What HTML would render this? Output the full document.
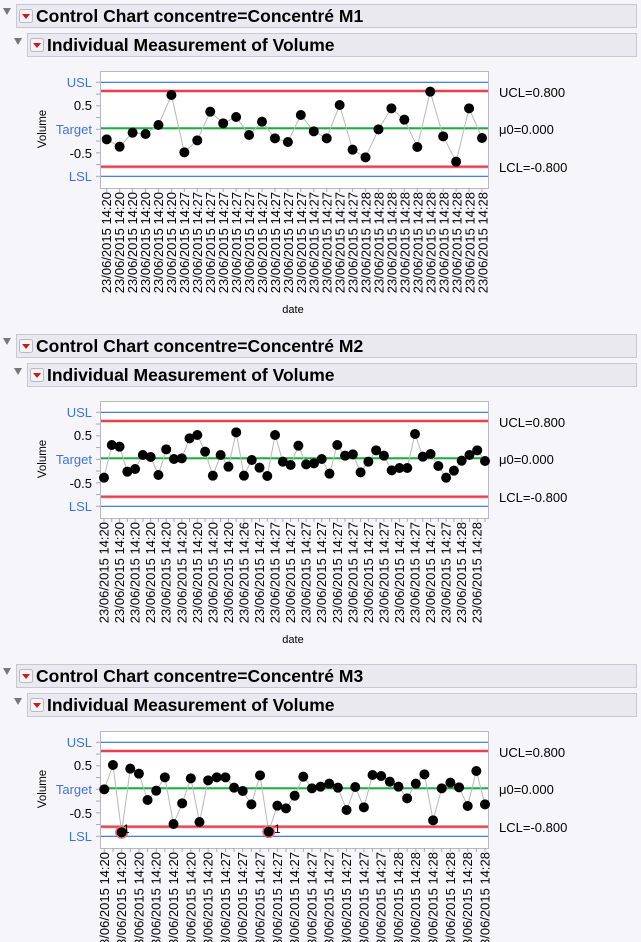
<!DOCTYPE html>
<html><head><meta charset="utf-8"><style>
html,body{margin:0;padding:0;background:#f6f6fa;overflow:hidden;width:641px;height:942px;}
svg{display:block;font-family:"Liberation Sans",Arial,sans-serif;}
.h1{font-weight:bold;font-size:17.5px;fill:#000}
.yl{font-size:13px;text-anchor:end}
.b{fill:#3d72e0}
.r{font-size:13px}
.xl{font-size:13px;text-anchor:end}
</style></head><body>
<svg id="s" width="641" height="942" viewBox="0 0 641 942" xmlns="http://www.w3.org/2000/svg">
<rect width="641" height="942" fill="#f6f6fa"/>
<g id="charts"></g>
<g id="t0">
<path d="M3,8 L11,8 L7,15 Z" fill="#777"/>
<rect x="16.5" y="4.5" width="620" height="23" fill="#e9e9ef" stroke="#c8c8d2"/>
<rect x="19.5" y="9.5" width="13" height="13" rx="2" fill="#f4f4f6" stroke="#b9b9c3"/>
<path d="M22,14 L30,14 L26,19 Z" fill="#d01818"/>
<text x="36" y="22" class="h1">Control Chart concentre=Concentré M1</text>
<path d="M14,38 L22,38 L18,45 Z" fill="#777"/>
<rect x="27.5" y="33.5" width="609" height="23" fill="#e9e9ef" stroke="#c8c8d2"/>
<rect x="30.5" y="38.5" width="13" height="13" rx="2" fill="#f4f4f6" stroke="#b9b9c3"/>
<path d="M33,43 L41,43 L37,48 Z" fill="#d01818"/>
<text x="47" y="51" class="h1">Individual Measurement of Volume</text>
<text x="92" y="87" class="yl b">USL</text>
<text x="92" y="110" class="yl">0.5</text>
<text x="92" y="134" class="yl b">Target</text>
<text x="92" y="158" class="yl">-0.5</text>
<text x="92" y="181" class="yl b">LSL</text>
<text transform="translate(46,129) rotate(-90)" text-anchor="middle" font-size="11.5">Volume</text>
<text x="499" y="97" class="r">UCL=0.800</text>
<text x="499" y="134" class="r">μ0=0.000</text>
<text x="499" y="172" class="r">LCL=-0.800</text>
</g>
<g transform="translate(0,330)">
<path d="M3,8 L11,8 L7,15 Z" fill="#777"/>
<rect x="16.5" y="4.5" width="620" height="23" fill="#e9e9ef" stroke="#c8c8d2"/>
<rect x="19.5" y="9.5" width="13" height="13" rx="2" fill="#f4f4f6" stroke="#b9b9c3"/>
<path d="M22,14 L30,14 L26,19 Z" fill="#d01818"/>
<text x="36" y="22" class="h1">Control Chart concentre=Concentré M2</text>
<path d="M14,38 L22,38 L18,45 Z" fill="#777"/>
<rect x="27.5" y="33.5" width="609" height="23" fill="#e9e9ef" stroke="#c8c8d2"/>
<rect x="30.5" y="38.5" width="13" height="13" rx="2" fill="#f4f4f6" stroke="#b9b9c3"/>
<path d="M33,43 L41,43 L37,48 Z" fill="#d01818"/>
<text x="47" y="51" class="h1">Individual Measurement of Volume</text>
<text x="92" y="87" class="yl b">USL</text>
<text x="92" y="110" class="yl">0.5</text>
<text x="92" y="134" class="yl b">Target</text>
<text x="92" y="158" class="yl">-0.5</text>
<text x="92" y="181" class="yl b">LSL</text>
<text transform="translate(46,129) rotate(-90)" text-anchor="middle" font-size="11.5">Volume</text>
<text x="499" y="97" class="r">UCL=0.800</text>
<text x="499" y="134" class="r">μ0=0.000</text>
<text x="499" y="172" class="r">LCL=-0.800</text>
</g>
<g transform="translate(0,660)">
<path d="M3,8 L11,8 L7,15 Z" fill="#777"/>
<rect x="16.5" y="4.5" width="620" height="23" fill="#e9e9ef" stroke="#c8c8d2"/>
<rect x="19.5" y="9.5" width="13" height="13" rx="2" fill="#f4f4f6" stroke="#b9b9c3"/>
<path d="M22,14 L30,14 L26,19 Z" fill="#d01818"/>
<text x="36" y="22" class="h1">Control Chart concentre=Concentré M3</text>
<path d="M14,38 L22,38 L18,45 Z" fill="#777"/>
<rect x="27.5" y="33.5" width="609" height="23" fill="#e9e9ef" stroke="#c8c8d2"/>
<rect x="30.5" y="38.5" width="13" height="13" rx="2" fill="#f4f4f6" stroke="#b9b9c3"/>
<path d="M33,43 L41,43 L37,48 Z" fill="#d01818"/>
<text x="47" y="51" class="h1">Individual Measurement of Volume</text>
<text x="92" y="87" class="yl b">USL</text>
<text x="92" y="110" class="yl">0.5</text>
<text x="92" y="134" class="yl b">Target</text>
<text x="92" y="158" class="yl">-0.5</text>
<text x="92" y="181" class="yl b">LSL</text>
<text transform="translate(46,129) rotate(-90)" text-anchor="middle" font-size="11.5">Volume</text>
<text x="499" y="97" class="r">UCL=0.800</text>
<text x="499" y="134" class="r">μ0=0.000</text>
<text x="499" y="172" class="r">LCL=-0.800</text>
</g>
<text x="293" y="313" font-size="11" text-anchor="middle">date</text>
<text x="293" y="643" font-size="11" text-anchor="middle">date</text>
<g class="xl">
<text transform="translate(111.2,192) rotate(-90)">23/06/2015 14:20</text>
<text transform="translate(124.2,192) rotate(-90)">23/06/2015 14:20</text>
<text transform="translate(137.1,192) rotate(-90)">23/06/2015 14:20</text>
<text transform="translate(150.1,192) rotate(-90)">23/06/2015 14:20</text>
<text transform="translate(163.1,192) rotate(-90)">23/06/2015 14:20</text>
<text transform="translate(176.1,192) rotate(-90)">23/06/2015 14:20</text>
<text transform="translate(189.0,192) rotate(-90)">23/06/2015 14:27</text>
<text transform="translate(202.0,192) rotate(-90)">23/06/2015 14:27</text>
<text transform="translate(215.0,192) rotate(-90)">23/06/2015 14:27</text>
<text transform="translate(227.9,192) rotate(-90)">23/06/2015 14:27</text>
<text transform="translate(240.9,192) rotate(-90)">23/06/2015 14:27</text>
<text transform="translate(253.9,192) rotate(-90)">23/06/2015 14:27</text>
<text transform="translate(266.8,192) rotate(-90)">23/06/2015 14:27</text>
<text transform="translate(279.8,192) rotate(-90)">23/06/2015 14:27</text>
<text transform="translate(292.8,192) rotate(-90)">23/06/2015 14:27</text>
<text transform="translate(305.8,192) rotate(-90)">23/06/2015 14:27</text>
<text transform="translate(318.7,192) rotate(-90)">23/06/2015 14:27</text>
<text transform="translate(331.7,192) rotate(-90)">23/06/2015 14:27</text>
<text transform="translate(344.7,192) rotate(-90)">23/06/2015 14:27</text>
<text transform="translate(357.6,192) rotate(-90)">23/06/2015 14:27</text>
<text transform="translate(370.6,192) rotate(-90)">23/06/2015 14:28</text>
<text transform="translate(383.6,192) rotate(-90)">23/06/2015 14:28</text>
<text transform="translate(396.5,192) rotate(-90)">23/06/2015 14:28</text>
<text transform="translate(409.5,192) rotate(-90)">23/06/2015 14:28</text>
<text transform="translate(422.5,192) rotate(-90)">23/06/2015 14:28</text>
<text transform="translate(435.5,192) rotate(-90)">23/06/2015 14:28</text>
<text transform="translate(448.4,192) rotate(-90)">23/06/2015 14:28</text>
<text transform="translate(461.4,192) rotate(-90)">23/06/2015 14:28</text>
<text transform="translate(474.4,192) rotate(-90)">23/06/2015 14:28</text>
<text transform="translate(487.3,192) rotate(-90)">23/06/2015 14:28</text>
</g>
<g class="xl">
<text transform="translate(108.5,522) rotate(-90)">23/06/2015 14:20</text>
<text transform="translate(124.1,522) rotate(-90)">23/06/2015 14:20</text>
<text transform="translate(139.6,522) rotate(-90)">23/06/2015 14:20</text>
<text transform="translate(155.2,522) rotate(-90)">23/06/2015 14:20</text>
<text transform="translate(170.7,522) rotate(-90)">23/06/2015 14:20</text>
<text transform="translate(186.3,522) rotate(-90)">23/06/2015 14:20</text>
<text transform="translate(201.8,522) rotate(-90)">23/06/2015 14:20</text>
<text transform="translate(217.4,522) rotate(-90)">23/06/2015 14:20</text>
<text transform="translate(232.9,522) rotate(-90)">23/06/2015 14:20</text>
<text transform="translate(248.5,522) rotate(-90)">23/06/2015 14:26</text>
<text transform="translate(264.0,522) rotate(-90)">23/06/2015 14:27</text>
<text transform="translate(279.6,522) rotate(-90)">23/06/2015 14:27</text>
<text transform="translate(295.1,522) rotate(-90)">23/06/2015 14:27</text>
<text transform="translate(310.7,522) rotate(-90)">23/06/2015 14:27</text>
<text transform="translate(326.2,522) rotate(-90)">23/06/2015 14:27</text>
<text transform="translate(341.8,522) rotate(-90)">23/06/2015 14:27</text>
<text transform="translate(357.3,522) rotate(-90)">23/06/2015 14:27</text>
<text transform="translate(372.9,522) rotate(-90)">23/06/2015 14:27</text>
<text transform="translate(388.4,522) rotate(-90)">23/06/2015 14:27</text>
<text transform="translate(404.0,522) rotate(-90)">23/06/2015 14:27</text>
<text transform="translate(419.5,522) rotate(-90)">23/06/2015 14:27</text>
<text transform="translate(435.1,522) rotate(-90)">23/06/2015 14:27</text>
<text transform="translate(450.6,522) rotate(-90)">23/06/2015 14:27</text>
<text transform="translate(466.2,522) rotate(-90)">23/06/2015 14:28</text>
<text transform="translate(481.7,522) rotate(-90)">23/06/2015 14:28</text>
</g>
<g class="xl">
<text transform="translate(108.8,852) rotate(-90)">23/06/2015 14:20</text>
<text transform="translate(126.1,852) rotate(-90)">23/06/2015 14:20</text>
<text transform="translate(143.4,852) rotate(-90)">23/06/2015 14:20</text>
<text transform="translate(160.7,852) rotate(-90)">23/06/2015 14:20</text>
<text transform="translate(178.0,852) rotate(-90)">23/06/2015 14:20</text>
<text transform="translate(195.3,852) rotate(-90)">23/06/2015 14:20</text>
<text transform="translate(212.6,852) rotate(-90)">23/06/2015 14:20</text>
<text transform="translate(229.9,852) rotate(-90)">23/06/2015 14:27</text>
<text transform="translate(247.2,852) rotate(-90)">23/06/2015 14:27</text>
<text transform="translate(264.5,852) rotate(-90)">23/06/2015 14:27</text>
<text transform="translate(281.8,852) rotate(-90)">23/06/2015 14:27</text>
<text transform="translate(299.1,852) rotate(-90)">23/06/2015 14:27</text>
<text transform="translate(316.4,852) rotate(-90)">23/06/2015 14:27</text>
<text transform="translate(333.7,852) rotate(-90)">23/06/2015 14:27</text>
<text transform="translate(351.0,852) rotate(-90)">23/06/2015 14:27</text>
<text transform="translate(368.3,852) rotate(-90)">23/06/2015 14:27</text>
<text transform="translate(385.6,852) rotate(-90)">23/06/2015 14:27</text>
<text transform="translate(402.9,852) rotate(-90)">23/06/2015 14:28</text>
<text transform="translate(420.2,852) rotate(-90)">23/06/2015 14:28</text>
<text transform="translate(437.5,852) rotate(-90)">23/06/2015 14:28</text>
<text transform="translate(454.8,852) rotate(-90)">23/06/2015 14:28</text>
<text transform="translate(472.1,852) rotate(-90)">23/06/2015 14:28</text>
<text transform="translate(489.4,852) rotate(-90)">23/06/2015 14:28</text>
</g>
<g id="top"></g>
<text x="123" y="833" font-size="12">1</text>
<text x="274" y="833" font-size="12">1</text>
</svg>
<script>
(function(){
var NS="http://www.w3.org/2000/svg";
var G=document.getElementById("charts");
function el(t,a,p){var e=document.createElementNS(NS,t);for(var k in a)e.setAttribute(k,a[k]);(p||G).appendChild(e);return e;}
var data=[
 {off:0,x0:106.7,x1:482,ys:[223,245,203,207,180,90,262,226,140,175,156,210,170,220,231,150,199,220,120,254,277,193,130,164,246,80,214,290,130,219]},
 {off:330,x0:104,x1:485,ys:[248,150,155,230,222,180,186,240,163,192,190,130,120,170,242,180,215,112,242,195,218,243,120,200,210,152,208,205,192,236,150,182,178,232,200,166,182,226,219,219,117,185,177,213,248,227,197,180,166,198]},
 {off:660,x0:104.3,x1:485,red:[2,19],ys:[193,120,322,131,146,225,197,157,297,235,160,291,166,157,157,188,198,238,151,320,242,250,212,155,190,185,176,188,255,186,247,150,153,170,185,220,176,148,286,190,173,187,243,138,238]}
];
data.forEach(function(d){
 var g=el("g",{transform:"translate(0,"+d.off+")"});
 el("rect",{x:100.5,y:71.5,width:388,height:117,fill:"#fff",stroke:"#b8b8c4"},g);
 for(var i=0;i<9;i++){var y=82.3+i*11.75;el("line",{x1:96,x2:100,y1:y,y2:y,stroke:"#a8a8b4"},g);}
 el("line",{x1:101,x2:488,y1:82.3,y2:82.3,stroke:"#2f6fdc","stroke-width":1.2},g);
 el("line",{x1:101,x2:488,y1:176.3,y2:176.3,stroke:"#2f6fdc","stroke-width":1.2},g);
 el("line",{x1:101,x2:488,y1:91,y2:91,stroke:"#f6b8bf","stroke-width":3.5},g);
 el("line",{x1:101,x2:488,y1:91,y2:91,stroke:"#e8404f","stroke-width":2},g);
 el("line",{x1:101,x2:488,y1:166.7,y2:166.7,stroke:"#f6b8bf","stroke-width":3.5},g);
 el("line",{x1:101,x2:488,y1:166.7,y2:166.7,stroke:"#e8404f","stroke-width":2},g);
 el("line",{x1:101,x2:488,y1:128.6,y2:128.6,stroke:"#2f6fdc","stroke-width":1},g);
 el("line",{x1:101,x2:488,y1:128.3,y2:128.3,stroke:"#1cae3c","stroke-width":2},g);
 var n=d.ys.length,dx=(d.x1-d.x0)/(n-1),pts=[];
 for(var i=0;i<n;i++){var x=d.x0+dx*i,y=65+d.ys[i]/3;pts.push(x.toFixed(1)+","+y.toFixed(1));
  el("line",{x1:x,x2:x,y1:188,y2:192,stroke:"#a8a8b4"},g);}
 el("polyline",{points:pts.join(" "),fill:"none",stroke:"#b8b8b8","stroke-width":1},g);
 for(var i=0;i<n;i++){var x=d.x0+dx*i,y=65+d.ys[i]/3;
  if(d.red&&d.red.indexOf(i)>=0)el("circle",{cx:x,cy:y,r:6.5,fill:"#f0707a"},g);
  el("circle",{cx:x,cy:y,r:5,fill:"#000"},g);}
});
})();
</script>
</body></html>
